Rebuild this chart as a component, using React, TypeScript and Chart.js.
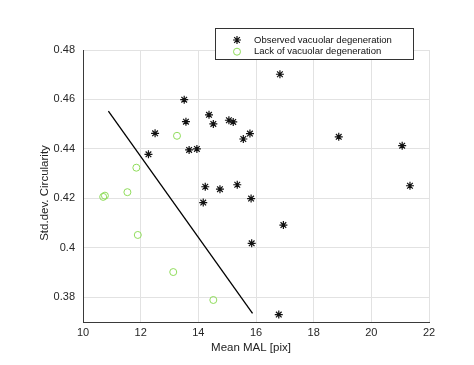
import React, { useEffect, useRef } from 'react';
import { Chart, registerables } from 'chart.js';

Chart.register(...registerables);

// ---- data ----
const observedX = [13.51, 12.5, 12.27, 13.57, 13.68, 13.95, 14.37, 14.52, 15.06, 15.21, 15.56, 15.79, 14.24, 14.75, 15.35, 14.17, 15.83, 15.85, 16.83, 18.87, 21.07, 21.34, 16.95, 16.79];
const observedY = [0.4599, 0.4463, 0.4378, 0.451, 0.4396, 0.44, 0.4538, 0.4501, 0.4516, 0.4509, 0.444, 0.4462, 0.4247, 0.4237, 0.4255, 0.4183, 0.4199, 0.4018, 0.4702, 0.4449, 0.4413, 0.4251, 0.4092, 0.373];
const lackX = [13.26, 11.85, 10.7, 10.76, 11.54, 11.9, 13.13, 14.52];
const lackY = [0.4453, 0.4324, 0.4206, 0.4211, 0.4225, 0.4052, 0.3902, 0.3789];
const lineX = [10.88, 15.88];
const lineY = [0.4553, 0.3735];
const xTicks = [10, 12, 14, 16, 18, 20, 22];
const yTicks = [0.38, 0.4, 0.42, 0.44, 0.46, 0.48];
const seriesLabels = ['Observed vacuolar degeneration', 'Lack of vacuolar degeneration'];
const xTitle = 'Mean MAL [pix]';
const yTitle = 'Std.dev. Circularity';

const FONT = '"Liberation Sans", Arial, Helvetica, sans-serif';
const GREEN = '#8fdc5a';
const STAR = '#111111';

const overlayPlugin = {
  id: 'overlay',
  afterDraw(chart: any) {
    const ctx = chart.ctx as CanvasRenderingContext2D;
    ctx.save();
    // axis titles
    ctx.fillStyle = '#222';
    ctx.font = `11.5px ${FONT}`;
    ctx.textAlign = 'center';
    ctx.textBaseline = 'middle';
    ctx.fillText(xTitle, 251, 348);
    ctx.save();
    ctx.translate(45, 193);
    ctx.rotate(-Math.PI / 2);
    ctx.fillText(yTitle, 0, 0);
    ctx.restore();

    // legend box
    ctx.fillStyle = '#ffffff';
    ctx.fillRect(215.5, 28.5, 198, 31);
    ctx.strokeStyle = '#333';
    ctx.lineWidth = 1;
    ctx.strokeRect(215.5, 28.5, 198, 31);

    // star marker
    const sx = 237, sy = 40, r = 4;
    ctx.strokeStyle = STAR;
    ctx.lineWidth = 1.2;
    ctx.beginPath();
    for (let k = 0; k < 4; k++) {
      const a = (k * Math.PI) / 4;
      ctx.moveTo(sx - r * Math.cos(a), sy - r * Math.sin(a));
      ctx.lineTo(sx + r * Math.cos(a), sy + r * Math.sin(a));
    }
    ctx.stroke();
    // circle marker
    ctx.strokeStyle = GREEN;
    ctx.lineWidth = 1;
    ctx.beginPath();
    ctx.arc(237, 51.7, 3.5, 0, Math.PI * 2);
    ctx.stroke();

    ctx.fillStyle = '#111';
    ctx.font = `9.5px ${FONT}`;
    ctx.textAlign = 'left';
    ctx.fillText(seriesLabels[0], 254, 40);
    ctx.fillText(seriesLabels[1], 254, 51.7);
    ctx.restore();
  },
};

export default function App() {
  const ref = useRef<HTMLCanvasElement | null>(null);
  useEffect(() => {
    if (!ref.current) return;
    const chart = new Chart(ref.current, {
      type: 'scatter',
      data: {
        datasets: [
          {
            label: seriesLabels[0],
            data: observedX.map((x, i) => ({ x, y: observedY[i] })),
            pointStyle: 'star',
            pointRadius: 4,
            borderColor: STAR,
            backgroundColor: STAR,
            borderWidth: 1.2,
          },
          {
            label: seriesLabels[1],
            data: lackX.map((x, i) => ({ x, y: lackY[i] })),
            pointStyle: 'circle',
            pointRadius: 3.5,
            borderColor: GREEN,
            backgroundColor: 'rgba(0,0,0,0)',
            borderWidth: 1,
          },
          {
            label: 'fit',
            data: lineX.map((x, i) => ({ x, y: lineY[i] })),
            showLine: true,
            pointRadius: 0,
            borderColor: '#000',
            borderWidth: 1.3,
          } as any,
        ],
      },
      options: {
        responsive: false,
        animation: false,
        layout: { padding: { top: 50, right: 45, left: 0, bottom: 0 } },
        plugins: { legend: { display: false }, tooltip: { enabled: false } },
        scales: {
          x: {
            type: 'linear',
            min: 10,
            max: 22,
            afterBuildTicks: (s: any) => {
              s.ticks = xTicks.map((v) => ({ value: v }));
            },
            afterFit: (s: any) => {
              s.height = 43;
            },
            ticks: {
              font: { family: FONT, size: 11 },
              color: '#262626',
              padding: 4,
              maxRotation: 0,
              callback: (v: any) => String(v),
            },
            grid: { color: '#e2e2e2', drawTicks: false, lineWidth: 1 },
            border: { color: '#3a3a3a', width: 1 },
          },
          y: {
            type: 'linear',
            min: 0.37,
            max: 0.48,
            afterBuildTicks: (s: any) => {
              s.ticks = yTicks.map((v) => ({ value: v }));
            },
            afterFit: (s: any) => {
              s.width = 83;
            },
            ticks: {
              font: { family: FONT, size: 11 },
              color: '#262626',
              padding: 8,
              callback: (v: any) => String(Math.round(Number(v) * 100) / 100),
            },
            grid: { color: '#e2e2e2', drawTicks: false, lineWidth: 1 },
            border: { color: '#3a3a3a', width: 1 },
          },
        },
      },
      plugins: [overlayPlugin],
    } as any);
    return () => chart.destroy();
  }, []);
  return (
    <div style={{ position: 'fixed', left: 0, top: 0, width: 474, height: 365, background: '#fff' }}>
      <canvas ref={ref} width={474} height={365} style={{ width: 474, height: 365, display: 'block' }} />
    </div>
  );
}
